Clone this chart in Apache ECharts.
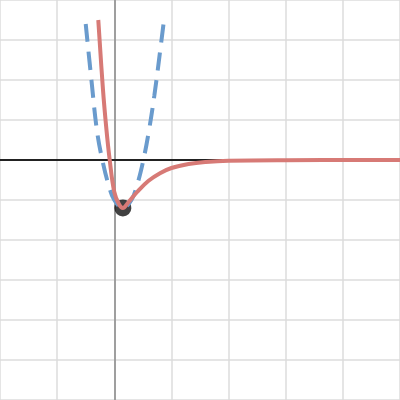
<!DOCTYPE html>
<html>
<head>
<meta charset="utf-8">
<script src="https://cdn.jsdelivr.net/npm/echarts@6/dist/echarts.min.js"></script>
<style>html,body{margin:0;padding:0;background:#fff}#chart{width:400px;height:400px}</style>
</head>
<body>
<div id="chart"></div>
<script>
// 红线（实线）
var redCurve = [[-0.28, 3.5], [-0.2, 1.8], [-0.14, 0.8], [-0.08, 0], [0.0, -0.8], [0.08, -1.1], [0.15, -1.2],
    [0.25, -1.05], [0.4, -0.8], [0.6, -0.52], [0.8, -0.33], [1.0, -0.2], [1.3, -0.1], [1.6, -0.05],
    [2.0, -0.02], [3.0, -0.005], [5.0, 0]];
// 蓝线（虚线）
var blueCurve = [[-0.5, 3.4], [-0.4, 2.0], [-0.3, 0.7], [-0.2, -0.06], [-0.1, -0.62], [0.0, -1.0], [0.15, -1.2],
    [0.3, -1.0], [0.4, -0.62], [0.5, -0.06], [0.6, 0.68], [0.7, 1.6], [0.8, 2.7], [0.87, 3.5]];
var point = [[0.15, -1.2]];

window.onload = function() {
    var myChart = echarts.init(document.getElementById('chart'));
    var option = {
        animation: false,
        grid: { left: -4, top: -41, right: -19.5, bottom: -49 },
        xAxis: {
            type: 'value', min: -2, max: 5, interval: 1,
            axisLabel: { show: false }, axisTick: { show: false },
            axisLine: { show: true, onZero: true, lineStyle: { color: '#222', width: 2 } },
            splitLine: { lineStyle: { color: '#ddd', width: 1.5 } }
        },
        yAxis: {
            type: 'value', min: -6, max: 4, interval: 1,
            axisLabel: { show: false }, axisTick: { show: false },
            axisLine: { show: true, onZero: true, lineStyle: { color: '#888', width: 1.5 } },
            splitLine: { lineStyle: { color: '#ddd', width: 1.5 } }
        },
        series: [{
            type: 'line', data: blueCurve, smooth: 0.4, showSymbol: false,
            lineStyle: { color: '#6a9bcd', width: 4, type: [18, 10] }
        }, {
            type: 'line', data: redCurve, smooth: 0.4, showSymbol: false,
            lineStyle: { color: '#d77a76', width: 4 }
        }, {
            type: 'scatter', data: point, symbolSize: 17,
            itemStyle: { color: '#111' }
        }]
    };
    myChart.setOption(option);
};
</script>
</body>
</html>
